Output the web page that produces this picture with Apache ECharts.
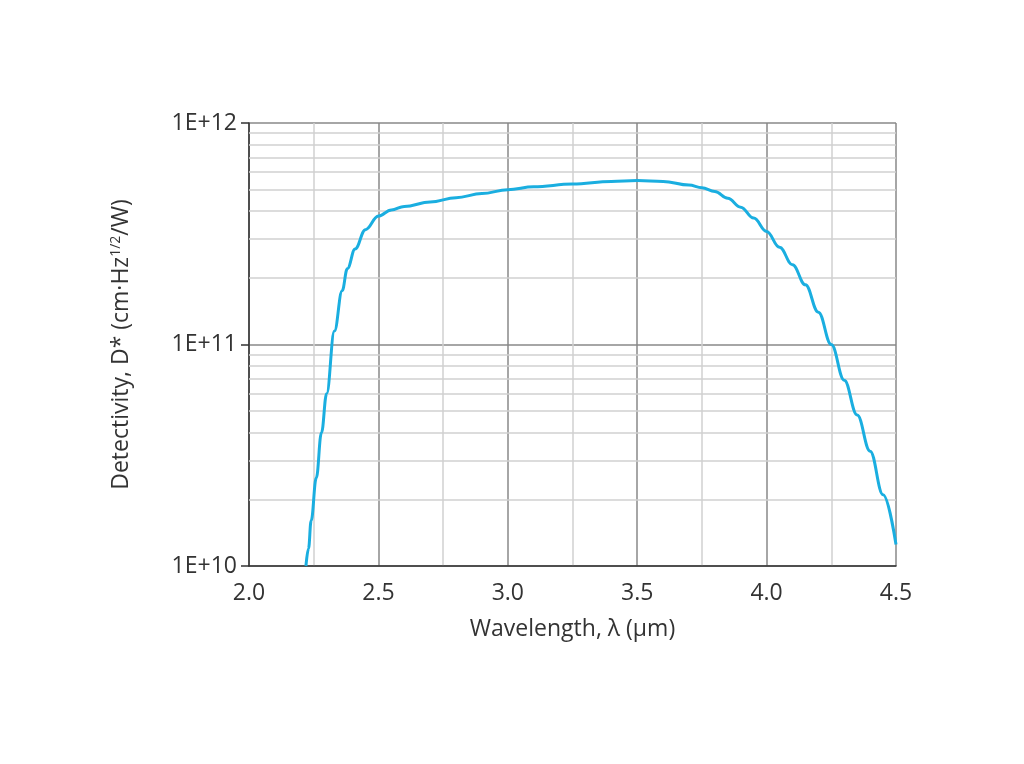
<!DOCTYPE html>
<html>
<head>
<meta charset="utf-8">
<script src="https://cdn.jsdelivr.net/npm/echarts@6/dist/echarts.min.js"></script>
<style>html,body{margin:0;background:#fff}#chart{width:1024px;height:764px}</style>
</head>
<body>
<div id="chart"></div>
<script>
// wavelength (µm) and detectivity D*
const wavelength = [2.22, 2.23, 2.24, 2.26, 2.28, 2.30, 2.33, 2.36, 2.38, 2.41, 2.45, 2.50, 2.55, 2.60, 2.70, 2.80, 2.90, 3.00, 3.10, 3.25, 3.40, 3.50, 3.60, 3.70, 3.75, 3.80, 3.85, 3.90, 3.95, 4.00, 4.05, 4.10, 4.15, 4.20, 4.25, 4.30, 4.35, 4.40, 4.45, 4.50];
const detectivity = [1.0e10, 1.2e10, 1.6e10, 2.5e10, 4.0e10, 6.0e10, 1.15e11, 1.75e11, 2.2e11, 2.7e11, 3.3e11, 3.8e11, 4.05e11, 4.2e11, 4.4e11, 4.6e11, 4.8e11, 5.0e11, 5.15e11, 5.3e11, 5.45e11, 5.5e11, 5.45e11, 5.25e11, 5.1e11, 4.9e11, 4.57e11, 4.17e11, 3.72e11, 3.24e11, 2.75e11, 2.29e11, 1.86e11, 1.4e11, 1.0e11, 6.9e10, 4.8e10, 3.3e10, 2.1e10, 1.25e10];
const minorY = [2e10, 3e10, 4e10, 5e10, 6e10, 7e10, 8e10, 9e10, 2e11, 3e11, 4e11, 5e11, 6e11, 7e11, 8e11, 9e11];

const chart = echarts.init(document.getElementById('chart'));
const font = '"Open Sans", "Noto Sans", sans-serif';

chart.setOption({
    animation: false,
    grid: { left: 249, right: 128, top: 123, bottom: 198 },
    xAxis: {
        type: 'value', min: 2, max: 4.5, interval: 0.25,
        name: 'Wavelength, λ (µm)', nameLocation: 'middle', nameGap: 52,
        nameTextStyle: { fontFamily: font, fontSize: 23, color: '#333' },
        axisLine: { lineStyle: { color: '#333', width: 1.5 } },
        axisTick: { show: false },
        axisLabel: {
            fontFamily: font, fontSize: 23, color: '#333', margin: 16,
            formatter: v => (Math.round(v * 100) % 50 === 0 ? v.toFixed(1) : '')
        },
        splitLine: { show: true, lineStyle: { color: ['#888', '#d0d0d0'], width: 1.5 } }
    },
    yAxis: {
        type: 'log', logBase: 10, min: 1e10, max: 1e12,
        name: '{n|Detectivity, D* (cm·Hz}{s|1/2}{n|/W)}', nameLocation: 'middle', nameGap: 116,
        nameTextStyle: {
            rich: {
                n: { fontFamily: font, fontSize: 23, color: '#333' },
                s: { fontFamily: font, fontSize: 14, color: '#333', verticalAlign: 'top', padding: [0, 0, 10, 0] }
            }
        },
        axisLine: { show: true, lineStyle: { color: '#333', width: 1.5 } },
        axisTick: { show: true, length: 8, lineStyle: { color: '#333', width: 1.5 } },
        axisLabel: {
            fontFamily: font, fontSize: 23, color: '#333', margin: 12,
            formatter: v => '1E+' + Math.round(Math.log10(v))
        },
        splitLine: { show: true, lineStyle: { color: '#888', width: 1.5 } }
    },
    series: [{
        type: 'line',
        data: wavelength.map((w, i) => [w, detectivity[i]]),
        smooth: 0.4, smoothMonotone: 'x', showSymbol: false,
        lineStyle: { color: '#1aaee0', width: 3 },
        markLine: {
            silent: true, symbol: 'none', label: { show: false },
            lineStyle: { color: '#d0d0d0', width: 1.5, type: 'solid' },
            data: minorY.map(v => ({ yAxis: v }))
        },
        z: 5
    }]
});
</script>
</body>
</html>
